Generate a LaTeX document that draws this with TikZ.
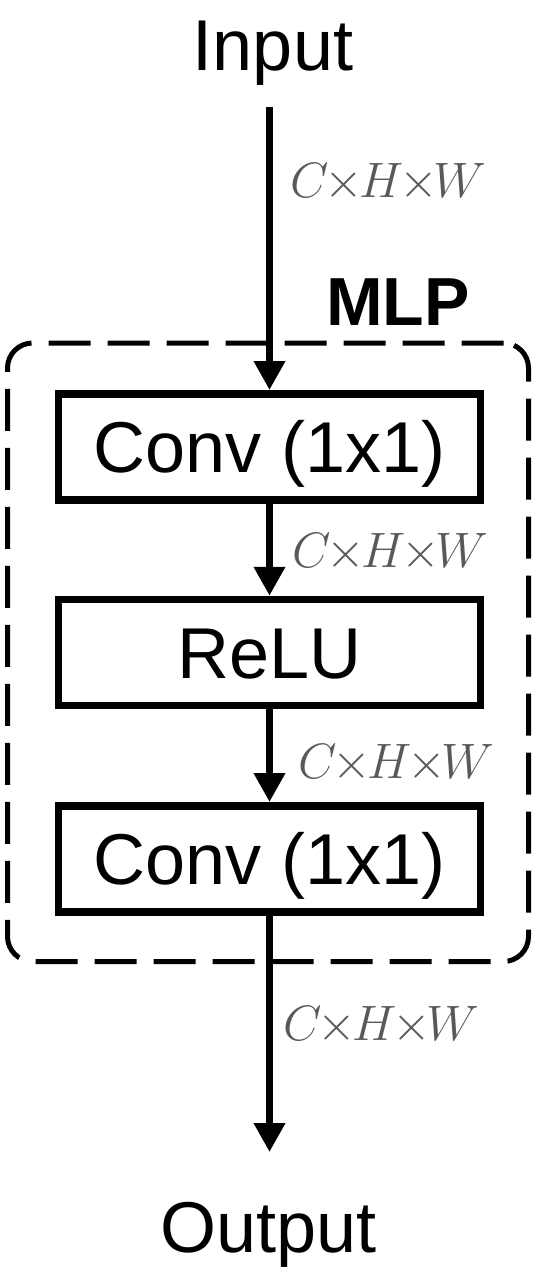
\documentclass[tikz,border=0pt]{standalone}
\usepackage{fontspec}
\setmainfont{Liberation Sans}
\usetikzlibrary{arrows.meta}
\definecolor{dimgray}{HTML}{595959}
\newcommand{\dimtimes}{\mkern-1.5mu{\times}\mkern-1.5mu}
\tikzset{
  blockbox/.style={draw, line width=3.75pt, minimum width=211pt, minimum height=53pt,
    inner sep=0pt, font=\fontsize{36}{36}\selectfont, text height=25.8pt, text depth=0pt},
  ioText/.style={font=\fontsize{36}{36}\selectfont, anchor=base, inner sep=0pt},
  dimText/.style={text=dimgray, font=\fontsize{24.5}{24.5}\selectfont, anchor=base west, inner sep=0pt},
  arr/.style={-{Triangle[width=15pt,length=14.5pt]}, line width=3.5pt},
  groupbox/.style={draw, line width=2.5pt, dash pattern=on 21pt off 8.5pt, rounded corners=12.5pt,
    minimum width=260.5pt, minimum height=309.25pt, inner sep=0pt, outer sep=0pt},
}
\begin{document}
\begin{tikzpicture}[x=0.5pt,y=-0.5pt]
\useasboundingbox (0,0) rectangle (542,1270);
\node[groupbox] (mlp) at (268,652.25) {};
\node[font=\bfseries\fontsize{34}{34}\selectfont, anchor=base, inner sep=0pt] (mlplabel) at (398,325) {MLP};
\node[ioText] (in) at (273,70) {Input};
\node[ioText] (out) at (268.5,1252) {Output};
\node[blockbox] (b1) at (269.5,446.75) {Conv (1x1)};
\node[blockbox] (b2) at (269.5,652.5) {ReLU};
\node[blockbox] (b3) at (269.5,858.75) {Conv (1x1)};
\coordinate (inA) at (269.5,107);
\coordinate (outA) at (269.5,1152);
\draw[arr] (inA) -- (b1);
\draw[arr] (b1) -- (b2);
\draw[arr] (b2) -- (b3);
\draw[arr] (b3) -- (outA);
\node[dimText] (d1) at (290,197) {$C\dimtimes H\dimtimes W$};
\node[dimText] (d2) at (292,567) {$C\dimtimes H\dimtimes W$};
\node[dimText] (d3) at (298,778) {$C\dimtimes H\dimtimes W$};
\node[dimText] (d4) at (283,1040) {$C\dimtimes H\dimtimes W$};
\end{tikzpicture}
\end{document}
